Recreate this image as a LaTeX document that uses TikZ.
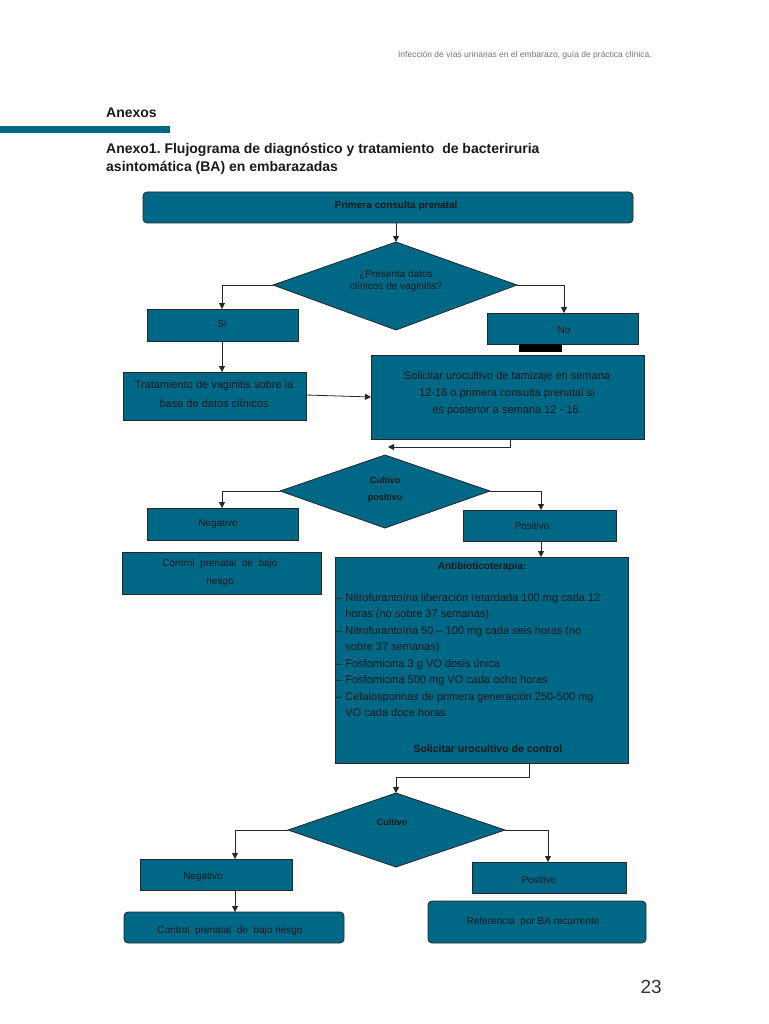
\documentclass[tikz,border=0pt]{standalone}
\usepackage{fontspec}
\setmainfont{Liberation Sans}
\usetikzlibrary{arrows.meta}
\definecolor{teal1}{RGB}{0,104,135}
\definecolor{txt}{RGB}{25,25,25}
\begin{document}
\begin{tikzpicture}[x=1pt,y=-1pt,
  box/.style={draw=black!85,line width=0.8pt,fill=teal1},
  rbox/.style={box,rounded corners=4pt},
  lbl/.style={text=txt,font=\fontsize{10}{12}\selectfont,align=center,inner sep=0},
  arr/.style={draw=black!85,line width=0.8pt,-{Triangle[length=6pt,width=6pt]}},
  ln/.style={draw=black!85,line width=0.8pt}]
\useasboundingbox (0,0) rectangle (768,1024);
\node[anchor=east,text=black!55,font=\fontsize{8.5}{10}\selectfont,inner sep=0] (hdr) at (652,55) {Infección de vías urinarias en el embarazo, guía de práctica clínica.};
\fill[teal1] (0,126) rectangle (170,133);
\node[anchor=base west,font=\fontsize{14}{16}\selectfont\bfseries,text=txt,inner sep=0] (anx) at (106,118) {Anexos};
\node[anchor=base west,font=\fontsize{14}{16}\selectfont\bfseries,text=txt,inner sep=0] (t1) at (106,154) {Anexo\hfill 1.\ Flujograma de diagnóstico y tratamiento\ \ de bacteriruria};
\node[anchor=base west,font=\fontsize{14}{16}\selectfont\bfseries,text=txt,inner sep=0,text width=554pt] (t1) at (106,154) {\strut};
\node[anchor=base west,font=\fontsize{14}{16}\selectfont\bfseries,text=txt,inner sep=0] (t2) at (106,172) {asintomática (BA) en embarazadas};
\node[anchor=base east,font=\fontsize{19}{22}\selectfont,text=black!80,inner sep=0] (pg) at (662,993) {23};

% boxes
\draw[rbox] (143,192) rectangle (633,223);
\node[lbl,font=\fontsize{10}{12}\selectfont\bfseries] (b1) at (396,206) {Primera consulta prenatal};
\coordinate (b1s) at (396,223);
\draw[box] (273,285) -- (396,242) -- (517,285) -- (396,330) -- cycle;
\coordinate (d1n) at (396,242); \coordinate (d1w) at (273,285); \coordinate (d1e) at (517,285);
\node[lbl] (d1) at (396,281) {¿Presenta datos\\clínicos de vaginitis?};
\draw[box] (147,309) rectangle (298,341); \node[lbl] (si) at (222,324) {Sí};
\coordinate (sin) at (222,309); \coordinate (sis) at (222,341);
\draw[box] (487,313) rectangle (638,344); \node[lbl] (no) at (564,330) {No};
\coordinate (non) at (564,313);
\fill[black] (519,344) rectangle (562,352);
\draw[box] (123,372) rectangle (306,420);
\node[lbl,font=\fontsize{11}{19}\selectfont] (tv) at (214,394) {Tratamiento de vaginitis sobre la\\base de datos clínicos};
\coordinate (tvn) at (222,372); \coordinate (tve) at (306,395);
\draw[box] (371,355) rectangle (644,439);
\node[lbl,font=\fontsize{11}{17}\selectfont] (sol) at (507,394) {Solicitar urocultivo de tamizaje en semana\\12-16 o primera consulta prenatal si\\es posterior a semana 12 - 16.};
\coordinate (solw) at (371,397); \coordinate (sols) at (510,439);
\coordinate (c1) at (510,447); \coordinate (c2) at (388,447);

\draw[box] (280,491) -- (385,455) -- (490,491) -- (385,528) -- cycle;
\node[lbl,font=\fontsize{9}{17}\selectfont\bfseries] (d2) at (385,490) {Cultivo\\positivo};
\coordinate (d2w) at (280,491); \coordinate (d2e) at (490,491);
\draw[box] (147,508) rectangle (298,540); \node[lbl] (neg1) at (218,524) {Negativo};
\coordinate (neg1n) at (222,508);
\draw[box] (463,510) rectangle (616,541); \node[lbl] (pos1) at (532,526) {Positivo};
\coordinate (pos1n) at (541,510); \coordinate (pos1s) at (541,541);
\draw[box] (122,552) rectangle (321,594);
\node[lbl,font=\fontsize{10}{18}\selectfont] (ctl1) at (220,573) {Control\ \ prenatal\ \ de\ \ bajo\\riesgo};
\draw[box] (335,557) rectangle (628,763);
\coordinate (abn) at (541,557); \coordinate (abs) at (529,763);
\node[lbl,font=\fontsize{10}{12}\selectfont\bfseries] (abt) at (482,567) {Antibioticoterapia:};
\node[lbl,anchor=north west,align=left,font=\fontsize{11}{16.5}\selectfont] (abl) at (336,593) {– Nitrofurantoína liberación retardada 100 mg cada 12\\\hphantom{– }horas (no sobre 37 semanas)\\– Nitrofurantoína 50 – 100 mg cada seis horas (no\\\hphantom{– }sobre 37 semanas)\\– Fosfomicina 3 g VO dosis única\\– Fosfomicina 500 mg VO cada ocho horas\\– Cefalosporinas de primera generación 250-500 mg\\\hphantom{– }VO cada doce horas};
\node[lbl,font=\fontsize{10.5}{12}\selectfont\bfseries] (abc) at (488,749) {Solicitar urocultivo de control};
\coordinate (c3) at (529,777); \coordinate (c4) at (396,777);

\draw[box] (288,830) -- (396,793) -- (505,830) -- (396,867) -- cycle;
\coordinate (d3n) at (396,793); \coordinate (d3w) at (288,830); \coordinate (d3e) at (505,830);
\node[lbl,font=\fontsize{9}{12}\selectfont\bfseries] (d3) at (392,822) {Cultivo};
\draw[box] (140,859) rectangle (292,890); \node[lbl] (neg2) at (203,877) {Negativo};
\coordinate (neg2n) at (235,859); \coordinate (neg2s) at (235,890);
\draw[box] (472,862) rectangle (626,893); \node[lbl] (pos2) at (539,880) {Positivo};
\coordinate (pos2n) at (548,862);
\draw[rbox] (124,912) rectangle (344,943); \node[lbl] (ctl2) at (230,931) {Control\ \ prenatal\ \ de\ \ bajo riesgo};
\coordinate (ctl2n) at (235,912);
\draw[rbox] (428,901) rectangle (646,943); \node[lbl] (ref) at (533,922) {Referencia\ \ por BA recurrente};

% connectors
\draw[arr] (b1s) -- (d1n);
\draw[arr] (d1w) -| (sin);
\draw[arr] (d1e) -| (non);
\draw[arr] (sis) -- (tvn);
\draw[arr] (tve) -- (solw);
\draw[arr] (sols) -- (c1) -- (c2);
\draw[arr] (d2w) -| (neg1n);
\draw[arr] (d2e) -| (pos1n);
\draw[arr] (pos1s) -- (abn);
\draw[arr] (abs) -- (c3) -- (c4) -- (d3n);
\draw[arr] (d3w) -| (neg2n);
\draw[arr] (d3e) -| (pos2n);
\draw[arr] (neg2s) -- (ctl2n);
\end{tikzpicture}
\end{document}
